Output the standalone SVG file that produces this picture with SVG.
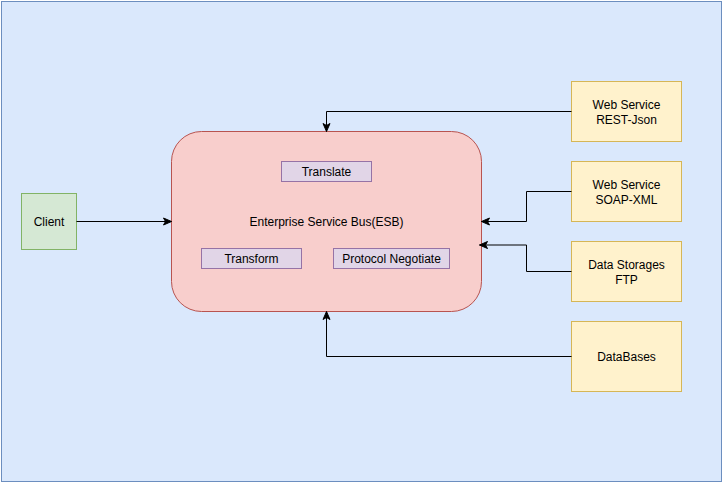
<svg xmlns="http://www.w3.org/2000/svg" width="723" height="483" viewBox="0 0 723 483">
<defs>
<style>
.t{font-family:"Liberation Sans",Arial,sans-serif;font-size:12px;fill:#000;text-anchor:middle;dominant-baseline:central}
.c{fill:none;stroke:#000;stroke-width:1}
.svc{fill:#fff2cc;stroke:#d6b656;stroke-width:1}
.sub{fill:#e1d5e7;stroke:#9673a6;stroke-width:1}
</style>
<marker id="arr" markerUnits="userSpaceOnUse" markerWidth="10" markerHeight="10" viewBox="0 0 10 10" refX="9" refY="5" orient="auto">
<path d="M1,1.5 L9,5 L1,8.5 L3,5 Z" fill="#000" stroke="#000" stroke-width="1"/>
</marker>
</defs>
<g id="background">
<rect x="1.5" y="1.5" width="720" height="480" fill="#dae8fc" stroke="#6c8ebf" stroke-width="1"/>
</g>
<g id="esb">
<rect x="171.5" y="131.5" width="310" height="180" rx="30" ry="30" fill="#f8cecc" stroke="#b85450" stroke-width="1"/>
<text class="t" x="326.5" y="221.5">Enterprise Service Bus(ESB)</text>
</g>
<g id="translate">
<rect class="sub" x="281.5" y="161.5" width="90" height="20"/>
<text class="t" x="326.5" y="171.5">Translate</text>
</g>
<g id="transform">
<rect class="sub" x="201.5" y="248.5" width="100" height="20"/>
<text class="t" x="251.5" y="258.5">Transform</text>
</g>
<g id="protocol">
<rect class="sub" x="333.5" y="248.5" width="116" height="20" stroke-width="1.5"/>
<text class="t" x="391.5" y="258.5">Protocol Negotiate</text>
</g>
<g id="client">
<rect x="21.5" y="193.5" width="55" height="56" fill="#d5e8d4" stroke="#82b366" stroke-width="1"/>
<text class="t" x="49" y="221.5">Client</text>
</g>
<g id="rest">
<rect class="svc" x="571.5" y="81.5" width="110" height="60"/>
<text class="t" x="626.5" y="104.5">Web Service</text>
<text class="t" x="626.5" y="119.5">REST-Json</text>
</g>
<g id="soap">
<rect class="svc" x="571.5" y="161.5" width="110" height="60"/>
<text class="t" x="626.5" y="184.5">Web Service</text>
<text class="t" x="626.5" y="199.5">SOAP-XML</text>
</g>
<g id="ftp">
<rect class="svc" x="571.5" y="241.5" width="110" height="60"/>
<text class="t" x="626.5" y="264.5">Data Storages</text>
<text class="t" x="626.5" y="279.5">FTP</text>
</g>
<g id="databases">
<rect class="svc" x="571.5" y="321.5" width="110" height="70"/>
<text class="t" x="626.5" y="356.5">DataBases</text>
</g>
<g id="connectors">
<path class="c" d="M76.5,221.5 H171.5" marker-end="url(#arr)"/>
<path class="c" d="M571.5,111.5 H326.5 V131.5" marker-end="url(#arr)"/>
<path class="c" d="M571.5,191.5 H526.5 V221.5 H481.5" marker-end="url(#arr)"/>
<path class="c" d="M571.5,271.5 H526.5 V245 H479.5" marker-end="url(#arr)"/>
<path class="c" d="M571.5,356.5 H326.5 V311.5" marker-end="url(#arr)"/>
</g>
</svg>
